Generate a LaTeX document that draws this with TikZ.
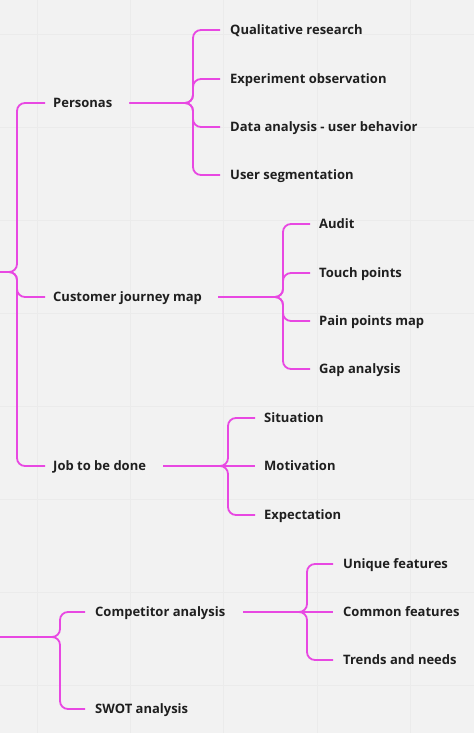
\documentclass[tikz,border=0pt]{standalone}
\usepackage{fontspec}
\setmainfont{Open Sans}
\usetikzlibrary{calc}

\definecolor{linkpink}{RGB}{232,72,226}
\definecolor{canvas}{RGB}{242,242,242}
\definecolor{gridline}{RGB}{235,235,235}

\begin{document}
\begin{tikzpicture}[
    x=1pt, y=-1pt,
    every node/.style={font=\bfseries\fontsize{13}{15}\selectfont, text=black!88,
        inner sep=0pt, text height=9.2pt, text depth=0pt, anchor=west},
    link/.style={line width=1.8pt, linkpink, rounded corners=8pt},
]

% === Canvas with faint grid ===
\fill[canvas] (0,0) rectangle (474,733);
\useasboundingbox (0,0) rectangle (474,733);
\foreach \gx in {37,130,223,317,410} {
    \draw[gridline, line width=0.7pt] (\gx,0) -- (\gx,733);
}
\foreach \gy in {34,127,220,313,406,499,592,685} {
    \draw[gridline, line width=0.7pt] (0,\gy) -- (474,\gy);
}

% === Topics ===
\node (per) at (53,103) {Personas};
\node (cjm) at (53,297) {Customer journey map};
\node (job) at (53,466) {Job to be done};
\node (comp) at (95,612) {Competitor analysis};
\node (swot) at (95,709) {SWOT analysis};

% Personas children
\node (qual) at (230,30)  {Qualitative research};
\node (expo) at (230,79)  {Experiment observation};
\node (data) at (230,127) {Data analysis - user behavior};
\node (segm) at (230,175) {User segmentation};

% Customer journey map children
\node (audit) at (319,224) {Audit};
\node (touch) at (319,273) {Touch points};
\node (pain)  at (319,321) {Pain points map};
\node (gap)   at (319,369) {Gap analysis};

% Job to be done children
\node (situ) at (264,418) {Situation};
\node (moti) at (264,466) {Motivation};
\node (expe) at (264,515) {Expectation};

% Competitor analysis children
\node (uniq) at (343,564) {Unique features};
\node (comm) at (343,612) {Common features};
\node (tren) at (343,660) {Trends and needs};

% === Junctions ===
\coordinate (rootA) at (-2,272);
\coordinate (rootB) at (-2,637);
\coordinate (jA) at (17,272);
\coordinate (jB) at (60,637);
\coordinate (jP) at (193,103);
\coordinate (jC) at (283,297);
\coordinate (jJ) at (228,466);
\coordinate (jK) at (307,612);

% === Branches ===
\foreach \c in {per,cjm,job} {
    \draw[link] (rootA) -| (jA |- \c.west) -- ([xshift=-8pt]\c.west);
}
\foreach \c in {comp,swot} {
    \draw[link] (rootB) -| (jB |- \c.west) -- ([xshift=-10pt]\c.west);
}
\foreach \c in {qual,expo,data,segm} {
    \draw[link] ([xshift=17pt]per.east) -| (jP |- \c.west) -- ([xshift=-10pt]\c.west);
}
\foreach \c in {audit,touch,pain,gap} {
    \draw[link] ([xshift=16pt]cjm.east) -| (jC |- \c.west) -- ([xshift=-9pt]\c.west);
}
\foreach \c in {situ,expe} {
    \draw[link] ([xshift=17pt]job.east) -| (jJ |- \c.west) -- ([xshift=-9pt]\c.west);
}
\draw[link] ([xshift=17pt]job.east) -- ([xshift=-9pt]moti.west);
\foreach \c in {uniq,tren} {
    \draw[link] ([xshift=18pt]comp.east) -| (jK |- \c.west) -- ([xshift=-10pt]\c.west);
}
\draw[link] ([xshift=18pt]comp.east) -- ([xshift=-10pt]comm.west);

\end{tikzpicture}
\end{document}
